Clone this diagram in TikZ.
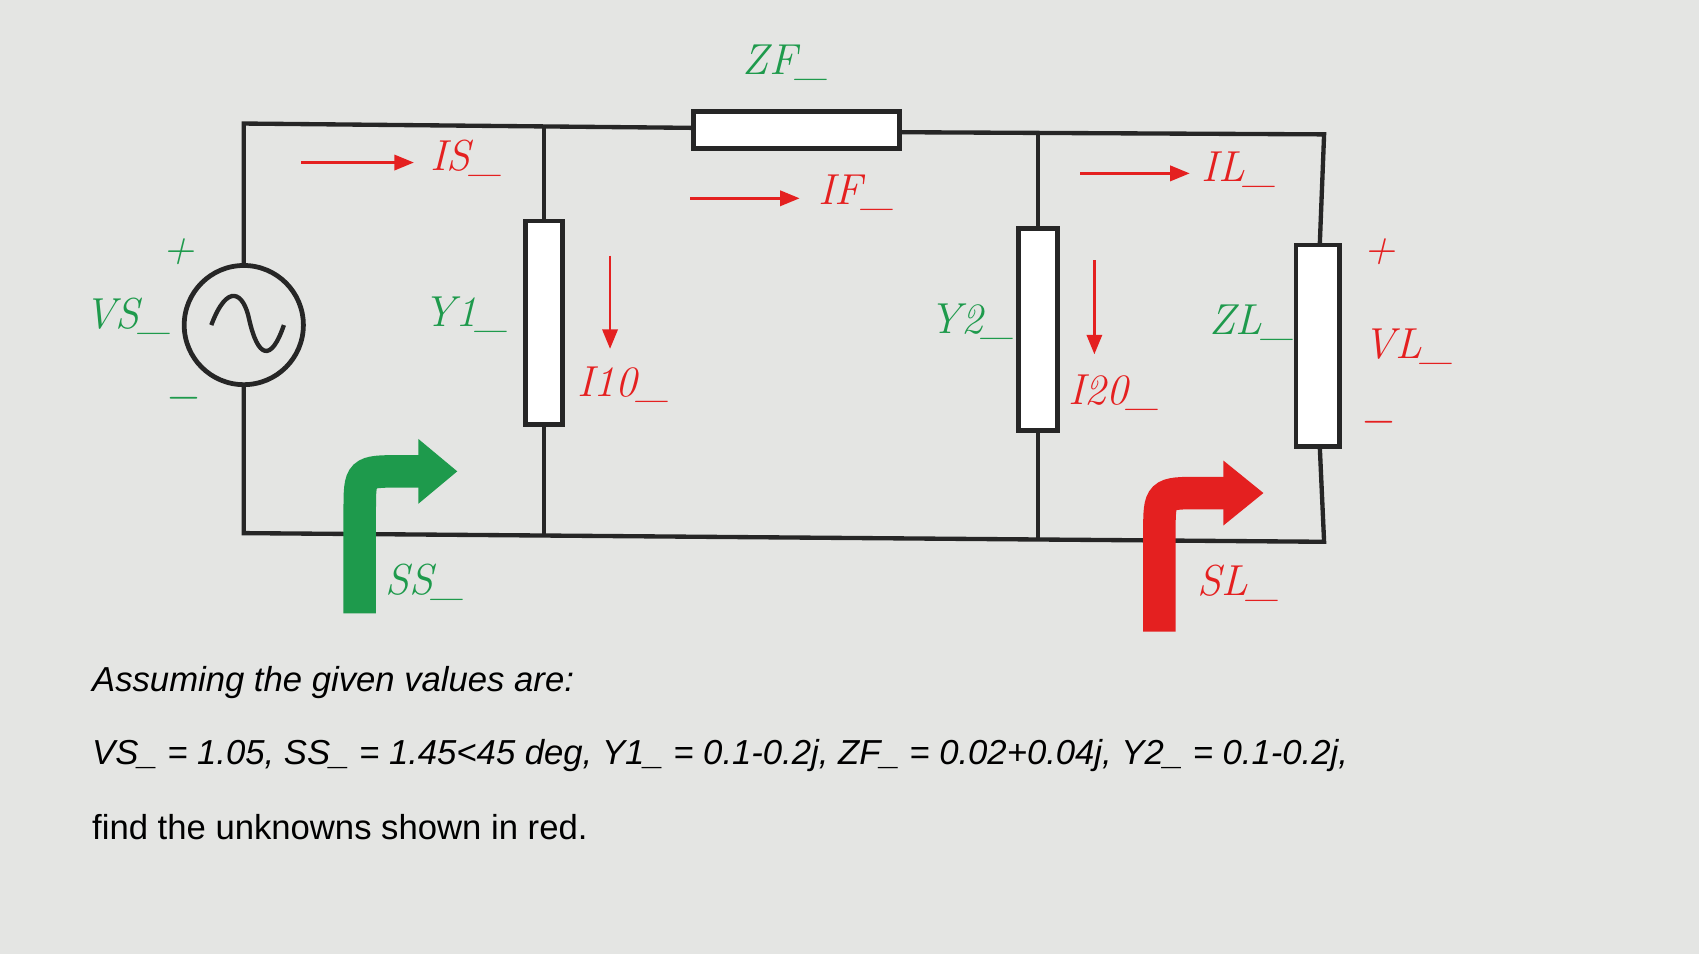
\documentclass[tikz,border=0pt]{standalone}
\usepackage{fontspec}
\newfontfamily\sansf{Liberation Sans}
\usetikzlibrary{arrows.meta}
\definecolor{bg}{HTML}{E4E5E3}
\definecolor{gr}{HTML}{1E9A4C}
\definecolor{rd}{HTML}{E42020}
\tikzset{
 wire/.style={line width=2pt,draw=black!85},
 res/.style={draw=black!85,line width=2.2pt,fill=white},
 glab/.style={text=gr,font=\fontsize{20}{24}\selectfont\itshape},
 rlab/.style={text=rd,font=\fontsize{20}{24}\selectfont\itshape},
 carr/.style={draw=rd,line width=1.3pt,-{Triangle[length=9pt,width=7pt]}},
 txt/.style={anchor=west,font=\sansf\fontsize{16}{19}\selectfont}
}
\begin{document}
\begin{tikzpicture}[x=0.5pt,y=-0.5pt]
\fill[bg] (0,0) rectangle (1568,880);
\useasboundingbox (0,0) rectangle (1568,880);
% wires
\coordinate (tl) at (225,114);
\coordinate (bl) at (225,492);
\coordinate (tr) at (1222,124);
\coordinate (br) at (1222,500);
\node[draw=black!85,line width=2.2pt,circle,minimum size=110*0.5pt,inner sep=0] (vs) at (225,300) {};
\draw[black!85,line width=2pt] (195,300) .. controls (210,260) and (225,270) .. (230,295) .. controls (238,330) and (250,335) .. (262,300);
\draw[wire] (vs.north) -- (tl) -- (640,118);
\draw[wire] (830,122) -- (tr) -- (1218,226);
\draw[wire] (1218,412) -- (br) -- (bl) -- (vs.south);
\node[res,minimum width=190*0.5pt,minimum height=34*0.5pt,inner sep=0] (zf) at (735,120) {};
\node[res,minimum width=34*0.5pt,minimum height=188*0.5pt,inner sep=0] (y1) at (502,298) {};
\node[res,minimum width=36*0.5pt,minimum height=186*0.5pt,inner sep=0] (y2) at (958,304) {};
\node[res,minimum width=40*0.5pt,minimum height=186*0.5pt,inner sep=0] (zl) at (1216,319) {};
\draw[wire] (502,116) -- (y1.north); \draw[wire] (y1.south) -- (502,494);
\draw[wire] (958,123) -- (y2.north); \draw[wire] (y2.south) -- (958,498);
% labels
\node[glab] at (725,58) {ZF\_};
\node[glab] at (118,292) {VS\_};
\node[glab] at (165,232) {+};
\node[glab] at (170,368) {$-$};
\node[glab] at (430,290) {Y1\_};
\node[glab] at (897,297) {Y2\_};
\node[glab] at (1155,298) {ZL\_};
\node[glab] at (392,537) {SS\_};
\node[rlab] at (1143,538) {SL\_};
\node[rlab] at (1300,320) {VL\_};
\node[rlab] at (1273,232) {+};
\node[rlab] at (1273,390) {$-$};
\coordinate (a1) at (278,150); \coordinate (a2) at (382,150);
\draw[carr] (a1) -- (a2); \node[rlab,anchor=west] at (390,146) {IS\_};
\coordinate (b1) at (637,183); \coordinate (b2) at (738,183);
\draw[carr] (b1) -- (b2); \node[rlab,anchor=west] at (748,178) {IF\_};
\coordinate (c1) at (997,160); \coordinate (c2) at (1098,160);
\draw[carr] (c1) -- (c2); \node[rlab,anchor=west] at (1102,157) {IL\_};
\coordinate (d1) at (563,236); \coordinate (d2) at (563,322);
\draw[carr] (d1) -- (d2); \node[rlab] at (575,355) {I10\_};
\coordinate (e1) at (1010,240); \coordinate (e2) at (1010,327);
\draw[carr] (e1) -- (e2); \node[rlab] at (1028,362) {I20\_};
% power arrows
\draw[gr,line width=15pt] (332,566) -- (332,472) .. controls (332,435) .. (370,435) -- (388,435);
\fill[gr] (386,405) -- (422,435) -- (386,465) -- cycle;
\draw[rd,line width=15pt] (1070,583) -- (1070,492) .. controls (1070,455) .. (1108,455) -- (1131,455);
\fill[rd] (1129,425) -- (1166,455) -- (1129,485) -- cycle;
% text
\node[txt,font=\sansf\itshape\fontsize{16}{19}\selectfont] at (78,630) {Assuming the given values are:};
\node[txt,font=\sansf\itshape\fontsize{16}{19}\selectfont] at (78,697) {VS\_ = 1.05, SS\_ = 1.45<45 deg, Y1\_ = 0.1-0.2j, ZF\_ = 0.02+0.04j, Y2\_ = 0.1-0.2j,};
\node[txt] at (78,763) {find the unknowns shown in red.};
\end{tikzpicture}
\end{document}
